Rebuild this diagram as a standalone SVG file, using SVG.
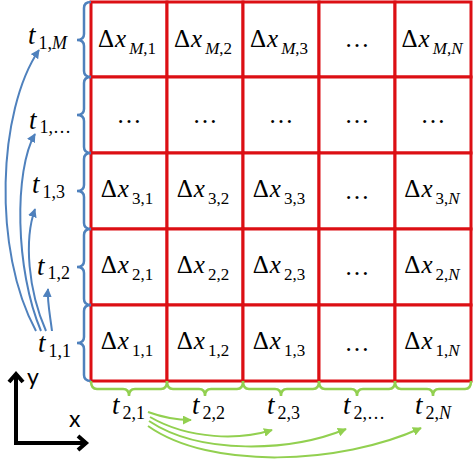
<svg xmlns="http://www.w3.org/2000/svg" width="474" height="462" viewBox="0 0 474 462">
<style>
.m{font-family:"Liberation Serif",serif;font-size:25px;fill:#000}
.t{font-family:"Liberation Serif",serif;font-size:27px;fill:#000}
.i{font-style:italic}
.s{font-size:17px}
.t .s{font-size:18px}
.cell{fill:#fff;stroke:#dc0f14;stroke-width:3}
.bb{fill:none;stroke:#4f81bd;stroke-width:2.5}
.gb{fill:none;stroke:#92d050;stroke-width:2.5}
.ba{fill:none;stroke:#4f81bd;stroke-width:2}
.ga{fill:none;stroke:#92d050;stroke-width:2}
.ax{fill:none;stroke:#000;stroke-width:4}
.axl{font-family:Lato,"Liberation Sans",sans-serif;font-size:23px;fill:#000}
</style>
<defs>
<marker id="ab" viewBox="0 0 10 10" refX="9" refY="5" markerWidth="4.5" markerHeight="4.5" orient="auto" markerUnits="strokeWidth"><path d="M0,0 L10,5 L0,10 Z" fill="#4f81bd"/></marker>
<marker id="ag" viewBox="0 0 10 10" refX="9" refY="5" markerWidth="4.5" markerHeight="4.5" orient="auto" markerUnits="strokeWidth"><path d="M0,0 L10,5 L0,10 Z" fill="#92d050"/></marker>
</defs>

<!-- grid cells -->
<g id="row-M">
<g id="cell-M-1"><rect class="cell" x="91" y="2" width="76" height="75"/><text class="m" x="127" y="47" text-anchor="middle">Δ<tspan class="i" dx="1">x</tspan><tspan class="s" dx="3" dy="7"><tspan class="i">M</tspan>,1</tspan></text></g>
<g id="cell-M-2"><rect class="cell" x="167" y="2" width="76" height="75"/><text class="m" x="203" y="47" text-anchor="middle">Δ<tspan class="i" dx="1">x</tspan><tspan class="s" dx="3" dy="7"><tspan class="i">M</tspan>,2</tspan></text></g>
<g id="cell-M-3"><rect class="cell" x="243" y="2" width="76" height="75"/><text class="m" x="279" y="47" text-anchor="middle">Δ<tspan class="i" dx="1">x</tspan><tspan class="s" dx="3" dy="7"><tspan class="i">M</tspan>,3</tspan></text></g>
<g id="cell-M-4"><rect class="cell" x="319" y="2" width="76" height="75"/><text class="m" x="357" y="47" text-anchor="middle">…</text></g>
<g id="cell-M-N"><rect class="cell" x="395" y="2" width="76" height="75"/><text class="m" x="432" y="47" text-anchor="middle">Δ<tspan class="i" dx="1">x</tspan><tspan class="s" dx="3" dy="7"><tspan class="i">M</tspan>,<tspan class="i">N</tspan></tspan></text></g>
</g>
<g id="row-dots">
<g id="cell-d-1"><rect class="cell" x="91" y="77" width="76" height="76"/><text class="m" x="129" y="123" text-anchor="middle">…</text></g>
<g id="cell-d-2"><rect class="cell" x="167" y="77" width="76" height="76"/><text class="m" x="205" y="123" text-anchor="middle">…</text></g>
<g id="cell-d-3"><rect class="cell" x="243" y="77" width="76" height="76"/><text class="m" x="281" y="123" text-anchor="middle">…</text></g>
<g id="cell-d-4"><rect class="cell" x="319" y="77" width="76" height="76"/><text class="m" x="357" y="123" text-anchor="middle">…</text></g>
<g id="cell-d-N"><rect class="cell" x="395" y="77" width="76" height="76"/><text class="m" x="433" y="123" text-anchor="middle">…</text></g>
</g>
<g id="row-3">
<g id="cell-3-1"><rect class="cell" x="91" y="153" width="76" height="76"/><text class="m" x="127" y="197" text-anchor="middle">Δ<tspan class="i" dx="1">x</tspan><tspan class="s" dx="3" dy="7">3,1</tspan></text></g>
<g id="cell-3-2"><rect class="cell" x="167" y="153" width="76" height="76"/><text class="m" x="203" y="197" text-anchor="middle">Δ<tspan class="i" dx="1">x</tspan><tspan class="s" dx="3" dy="7">3,2</tspan></text></g>
<g id="cell-3-3"><rect class="cell" x="243" y="153" width="76" height="76"/><text class="m" x="279" y="197" text-anchor="middle">Δ<tspan class="i" dx="1">x</tspan><tspan class="s" dx="3" dy="7">3,3</tspan></text></g>
<g id="cell-3-4"><rect class="cell" x="319" y="153" width="76" height="76"/><text class="m" x="357" y="199" text-anchor="middle">…</text></g>
<g id="cell-3-N"><rect class="cell" x="395" y="153" width="76" height="76"/><text class="m" x="432" y="197" text-anchor="middle">Δ<tspan class="i" dx="1">x</tspan><tspan class="s" dx="3" dy="7">3,<tspan class="i">N</tspan></tspan></text></g>
</g>
<g id="row-2">
<g id="cell-2-1"><rect class="cell" x="91" y="229" width="76" height="76"/><text class="m" x="127" y="273" text-anchor="middle">Δ<tspan class="i" dx="1">x</tspan><tspan class="s" dx="3" dy="7">2,1</tspan></text></g>
<g id="cell-2-2"><rect class="cell" x="167" y="229" width="76" height="76"/><text class="m" x="203" y="273" text-anchor="middle">Δ<tspan class="i" dx="1">x</tspan><tspan class="s" dx="3" dy="7">2,2</tspan></text></g>
<g id="cell-2-3"><rect class="cell" x="243" y="229" width="76" height="76"/><text class="m" x="279" y="273" text-anchor="middle">Δ<tspan class="i" dx="1">x</tspan><tspan class="s" dx="3" dy="7">2,3</tspan></text></g>
<g id="cell-2-4"><rect class="cell" x="319" y="229" width="76" height="76"/><text class="m" x="357" y="275" text-anchor="middle">…</text></g>
<g id="cell-2-N"><rect class="cell" x="395" y="229" width="76" height="76"/><text class="m" x="432" y="273" text-anchor="middle">Δ<tspan class="i" dx="1">x</tspan><tspan class="s" dx="3" dy="7">2,<tspan class="i">N</tspan></tspan></text></g>
</g>
<g id="row-1">
<g id="cell-1-1"><rect class="cell" x="91" y="305" width="76" height="76"/><text class="m" x="127" y="349" text-anchor="middle">Δ<tspan class="i" dx="1">x</tspan><tspan class="s" dx="3" dy="7">1,1</tspan></text></g>
<g id="cell-1-2"><rect class="cell" x="167" y="305" width="76" height="76"/><text class="m" x="203" y="349" text-anchor="middle">Δ<tspan class="i" dx="1">x</tspan><tspan class="s" dx="3" dy="7">1,2</tspan></text></g>
<g id="cell-1-3"><rect class="cell" x="243" y="305" width="76" height="76"/><text class="m" x="279" y="349" text-anchor="middle">Δ<tspan class="i" dx="1">x</tspan><tspan class="s" dx="3" dy="7">1,3</tspan></text></g>
<g id="cell-1-4"><rect class="cell" x="319" y="305" width="76" height="76"/><text class="m" x="357" y="351" text-anchor="middle">…</text></g>
<g id="cell-1-N"><rect class="cell" x="395" y="305" width="76" height="76"/><text class="m" x="432" y="349" text-anchor="middle">Δ<tspan class="i" dx="1">x</tspan><tspan class="s" dx="3" dy="7">1,<tspan class="i">N</tspan></tspan></text></g>
</g>

<!-- row labels with braces -->
<g id="t1M"><path class="bb" d="M91,2 Q84,2 84,8 L84,34 Q84,40 77,40 Q84,40 84,46 L84,71 Q84,77 91,77"/><text class="t" x="28" y="44"><tspan class="i">t</tspan><tspan class="s" dx="3" dy="5">1,<tspan class="i">M</tspan></tspan></text></g>
<g id="t1dots"><path class="bb" d="M91,77 Q84,77 84,83 L84,109 Q84,115 77,115 Q84,115 84,121 L84,147 Q84,153 91,153"/><text class="t" x="29" y="129"><tspan class="i">t</tspan><tspan class="s" dx="3" dy="4">1,…</tspan></text></g>
<g id="t13"><path class="bb" d="M91,153 Q84,153 84,159 L84,185 Q84,191 77,191 Q84,191 84,197 L84,223 Q84,229 91,229"/><text class="t" x="32" y="193"><tspan class="i">t</tspan><tspan class="s" dx="3" dy="5">1,3</tspan></text></g>
<g id="t12"><path class="bb" d="M91,229 Q84,229 84,235 L84,261 Q84,267 77,267 Q84,267 84,273 L84,299 Q84,305 91,305"/><text class="t" x="37" y="275"><tspan class="i">t</tspan><tspan class="s" dx="3" dy="4">1,2</tspan></text></g>
<g id="t11"><path class="bb" d="M91,305 Q84,305 84,311 L84,337 Q84,343 77,343 Q84,343 84,349 L84,375 Q84,381 91,381"/><text class="t" x="38" y="352"><tspan class="i">t</tspan><tspan class="s" dx="3" dy="5">1,1</tspan></text></g>

<!-- column labels with braces -->
<g id="t21"><path class="gb" d="M91,381 Q91,389 97,389 L123,389 Q129,389 129,396 Q129,389 135,389 L161,389 Q167,389 167,381"/><text class="t" x="112" y="414"><tspan class="i">t</tspan><tspan class="s" dx="3" dy="5">2,1</tspan></text></g>
<g id="t22"><path class="gb" d="M167,381 Q167,389 173,389 L199,389 Q205,389 205,396 Q205,389 211,389 L237,389 Q243,389 243,381"/><text class="t" x="192" y="414"><tspan class="i">t</tspan><tspan class="s" dx="3" dy="5">2,2</tspan></text></g>
<g id="t23"><path class="gb" d="M243,381 Q243,389 249,389 L275,389 Q281,389 281,396 Q281,389 287,389 L313,389 Q319,389 319,381"/><text class="t" x="267" y="414"><tspan class="i">t</tspan><tspan class="s" dx="3" dy="5">2,3</tspan></text></g>
<g id="t2dots"><path class="gb" d="M319,381 Q319,389 325,389 L351,389 Q357,389 357,396 Q357,389 363,389 L389,389 Q395,389 395,381"/><text class="t" x="343" y="414"><tspan class="i">t</tspan><tspan class="s" dx="3" dy="5">2,…</tspan></text></g>
<g id="t2N"><path class="gb" d="M395,381 Q395,389 401,389 L427,389 Q433,389 433,396 Q433,389 439,389 L465,389 Q471,389 471,381"/><text class="t" x="415" y="414"><tspan class="i">t</tspan><tspan class="s" dx="3" dy="5">2,<tspan class="i">N</tspan></tspan></text></g>

<!-- axes -->
<g id="axes">
<path class="ax" d="M16,375 L16,443 L85,443"/>
<path class="ax" d="M9,382 L16,374 L23,382"/>
<path class="ax" d="M78,436 L86,443 L78,450"/>
<text class="axl" x="27" y="385">y</text>
<text class="axl" x="69" y="427">x</text>
</g>

<!-- connectors -->
<g id="connectors">
<path class="ba" d="M36,331 C-8,250 -2,110 39,50" marker-end="url(#ab)"/>
<path class="ba" d="M41,331 C15,270 14,170 35,134" marker-end="url(#ab)"/>
<path class="ba" d="M46,331 C28,290 24,240 35,209" marker-end="url(#ab)"/>
<path class="ba" d="M52,331 C50,315 47,300 48,289" marker-end="url(#ab)"/>
<path class="ga" d="M148,412 Q170,420 191,420" marker-end="url(#ag)"/>
<path class="ga" d="M150,417 C190,440 240,440 272,430" marker-end="url(#ag)"/>
<path class="ga" d="M149,421 C200,455 290,452 346,429" marker-end="url(#ag)"/>
<path class="ga" d="M148,426 C210,470 340,465 421,428" marker-end="url(#ag)"/>
</g>
</svg>
